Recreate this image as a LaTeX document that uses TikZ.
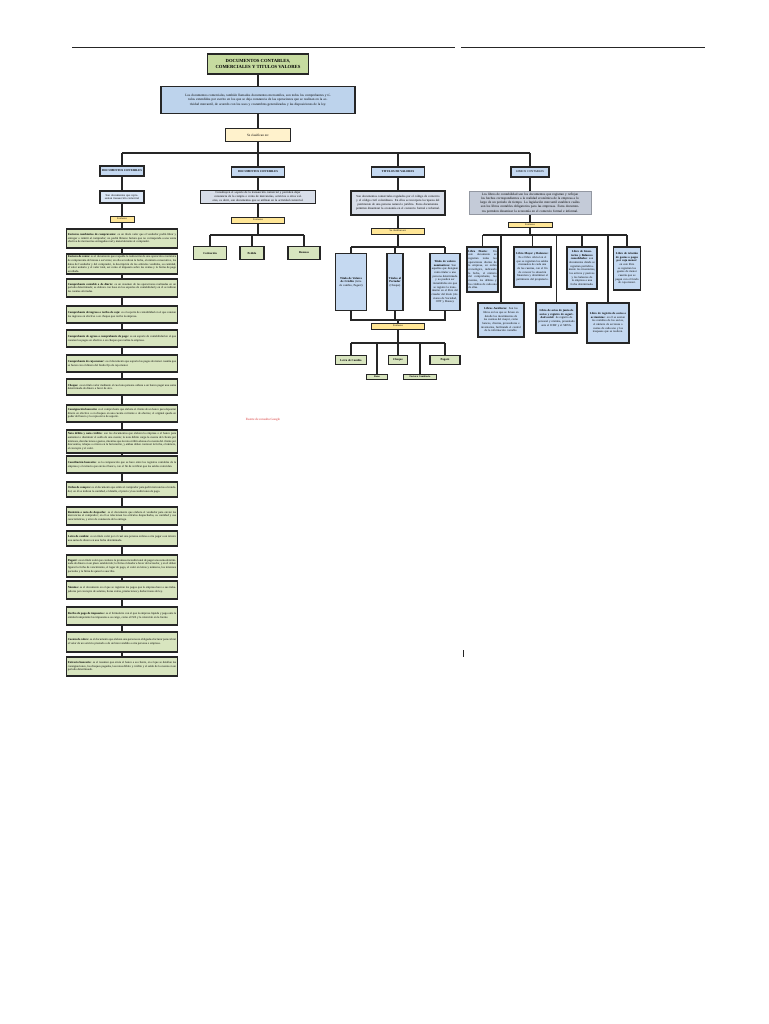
\documentclass[tikz,border=0pt]{standalone}
\usepackage{fontspec}
\setmainfont{Liberation Serif}
\usetikzlibrary{positioning}

\definecolor{titlegreen}{RGB}{198,219,160}
\definecolor{boxgreen}{RGB}{216,229,191}
\definecolor{boxblue}{RGB}{197,217,241}
\definecolor{introblue}{RGB}{189,211,236}
\definecolor{paleyellow}{RGB}{255,242,204}
\definecolor{tagyellow}{RGB}{255,230,150}
\definecolor{boxgrey}{RGB}{216,222,233}
\definecolor{libgrey}{RGB}{196,203,216}
\definecolor{srcred}{RGB}{214,42,42}
\newcommand{\fsz}[2]{\fontsize{#1}{#2}\selectfont}

\begin{document}
\begin{tikzpicture}[x=0.75pt, y=-0.75pt,
  every node/.style={inner sep=1pt, align=center},
  bw/.style={text width=#1*0.75pt-2pt},
  mw/.style={minimum width=#1*0.75pt},
  mh/.style={minimum height=#1*0.75pt},
  outline/.style={draw=black!85, line width=1.1pt},
  link/.style={draw=black!85, line width=0.9pt},
  ttlbox/.style={outline, fill=titlegreen, font=\fsz{3.5}{5}\bfseries},
  introbox/.style={outline, fill=introblue, font=\fsz{2.5}{3.3}},
  clastag/.style={outline, fill=paleyellow, font=\fsz{2.5}{3}},
  headbox/.style={outline, fill=boxblue, font=\fsz{2.2}{2.6}\bfseries},
  subbox/.style={outline, fill=boxgrey, font=\fsz{2.3}{2.9}},
  fmttag/.style={draw=black!85, line width=0.7pt, fill=tagyellow, inner sep=0.3pt, font=\fsz{1.9}{2.2}},
  docbox/.style={outline, fill=boxgreen, font=\fsz{2.2}{2.75}, align=justify, bw=111},
  formbox/.style={outline, fill=boxgreen, font=\fsz{2.2}{2.6}\bfseries},
  typebox/.style={outline, fill=boxblue, font=\fsz{2.2}{2.75}},
  libbox/.style={outline, fill=boxblue, font=\fsz{2.2}{2.75}}]

  \useasboundingbox (0,0) rectangle (768,1024);
  \fill[white] (0,0) rectangle (768,1024);

  % top rules
  \draw[black!85, line width=0.7pt] (72,47) -- (455,47);
  \draw[black!85, line width=0.7pt] (461,47) -- (705,47);

  % title and trunk
  \node[ttlbox, mw=101, mh=20] (ttl) at (258,64) {DOCUMENTOS CONTABLES,\\COMERCIALES Y TITULOS VALORES};
  \node[introbox, bw=194, mh=27] (intro) at (258,100) {Los documentos comerciales, también llamados documentos mercantiles, son todos los comprobantes y títulos extendidos por escrito en los que se deja constancia de las operaciones que se realizan en la actividad mercantil, de acuerdo con los usos y costumbres generalizadas y las disposiciones de la ley.};
  \node[clastag, mw=65, mh=13] (clas) at (258,135) {Se clasifican en:};
  \draw[link] (ttl) -- (intro) -- (clas);

  \coordinate (busM) at (0,153);
  \node[headbox, mw=44, mh=10] (hdA) at (122,171) {DOCUMENTOS CONTABLES};
  \node[headbox, mw=53, mh=10] (hdB) at (258,172) {DOCUMENTOS CONTABLES};
  \node[headbox, mw=53, mh=10] (hdC) at (398,172) {TITULOS DE VALORES};
  \node[headbox, font=\fsz{2.2}{2.6}, mw=38, mh=10] (hdD) at (530,172) {LIBROS CONTABLES};
  \draw[link] (clas) -- (clas |- busM);
  \draw[link] (hdA |- busM) -- (hdD |- busM);
  \draw[link] (hdA |- busM) -- (hdA);
  \draw[link] (hdB |- busM) -- (hdB);
  \draw[link] (hdC |- busM) -- (hdC);
  \draw[link] (hdD |- busM) -- (hdD);

  % documentos contables (left column)
  \node[subbox, fill=boxblue!60!white, bw=44, mh=12, font=\fsz{2.2}{2.8}] (subA) at (122,197) {Son documentos que representan transacción comercial};
  \node[fmttag, mw=24, mh=6] (fmtA) at (122,219) {Formatos};
  \node[docbox, mh=19] (a1) at (122,238.5) {\textbf{Facturas cambiarias de compraventa:} es un título valor que el vendedor podrá librar y entregar o remitir al comprador; no podrá librarse factura que no corresponda a una venta efectiva de mercancías entregadas real y materialmente al comprador.};
  \node[docbox, mh=20] (a2) at (122,264) {\textbf{Factura de venta:} es el documento que respalda la realización de una operación económica de compraventa de bienes o servicios; en ella se indican la fecha, el número consecutivo, los datos del vendedor y del comprador, la descripción de los artículos vendidos, su cantidad, el valor unitario y el valor total, así como el impuesto sobre las ventas y la forma de pago acordada.};
  \node[docbox, mh=18] (a3) at (122,288) {\textbf{Comprobante contable o de diario:} es un resumen de las operaciones realizadas en un periodo determinado; se elabora con base en los soportes de contabilidad y en él se indican las cuentas afectadas.};
  \node[docbox, mh=17] (a4) at (122,314.5) {\textbf{Comprobante de ingreso o recibo de caja:} es el soporte de contabilidad en el que constan los ingresos en efectivo o en cheque que recibe la empresa.};
  \node[docbox, mh=17] (a5) at (122,338.5) {\textbf{Comprobante de egreso o comprobante de pago:} es un soporte de contabilidad en el que constan los pagos en efectivo o en cheque que realiza la empresa.};
  \node[docbox, mh=17] (a6) at (122,363.5) {\textbf{Comprobante de caja menor:} es el documento que soporta los pagos de menor cuantía que se hacen con el dinero del fondo fijo de caja menor.};
  \node[docbox, mh=16] (a7) at (122,387) {\textbf{Cheque:} es un título valor mediante el cual una persona ordena a un banco pagar una suma determinada de dinero a favor de otra.};
  \node[docbox, mh=17] (a8) at (122,413.5) {\textbf{Consignación bancaria:} es el comprobante que elabora el cliente de un banco para depositar dinero en efectivo o en cheques en una cuenta corriente o de ahorros; el original queda en poder del banco y la copia sirve de soporte.};
  \node[docbox, mh=23] (a9) at (122,441.5) {\textbf{Nota débito y nota crédito:} son los documentos que elabora la empresa o el banco para aumentar o disminuir el saldo de una cuenta; la nota débito carga la cuenta del cliente por intereses, devoluciones o gastos, mientras que la nota crédito abona a la cuenta del cliente por descuentos, rebajas o errores en la facturación, y ambas deben contener la fecha, el número, el concepto y el valor.};
  \node[docbox, mh=17] (a10) at (122,464.5) {\textbf{Conciliación bancaria:} es la comparación que se hace entre los registros contables de la empresa y el extracto que envía el banco, con el fin de verificar que los saldos coincidan.};
  \node[docbox, mh=15] (a11) at (122,489.5) {\textbf{Orden de compra:} es el documento que emite el comprador para pedir mercancías al vendedor; en él se indican la cantidad, el detalle, el precio y las condiciones de pago.};
  \node[docbox, mh=18] (a12) at (122,516) {\textbf{Remisión o nota de despacho:} es el documento que elabora el vendedor para enviar las mercancías al comprador; en él se relacionan los artículos despachados, su cantidad y sus características, y sirve de constancia de la entrega.};
  \node[docbox, mh=15] (a13) at (122,538.5) {\textbf{Letra de cambio:} es un título valor por el cual una persona ordena a otra pagar a un tercero una suma de dinero en una fecha determinada.};
  \node[docbox, mh=22] (a14) at (122,566) {\textbf{Pagaré:} es un título valor que contiene la promesa incondicional de pagar una suma determinada de dinero en un plazo establecido; lo firma el deudor a favor del acreedor, y en él deben figurar la fecha de vencimiento, el lugar de pago, el valor en letras y números, los intereses pactados y la firma de quien lo suscribe.};
  \node[docbox, mh=18] (a15) at (122,590) {\textbf{Nómina:} es el documento en el que se registran los pagos que la empresa hace a sus trabajadores por concepto de salarios, horas extras, prestaciones y deducciones de ley.};
  \node[docbox, mh=18] (a16) at (122,616) {\textbf{Recibo de pago de impuestos:} es el formulario con el que la empresa liquida y paga ante la entidad competente los impuestos a su cargo, como el IVA y la retención en la fuente.};
  \node[docbox, mh=20] (a17) at (122,642) {\textbf{Cuenta de cobro:} es el documento que elabora una persona no obligada a facturar para cobrar el valor de un servicio prestado o de un bien vendido a otra persona o empresa.};
  \node[docbox, mh=19] (a18) at (122,666.5) {\textbf{Extracto bancario:} es el resumen que envía el banco a su cliente, en el que se detallan las consignaciones, los cheques pagados, las notas débito y crédito y el saldo de la cuenta en un periodo determinado.};
  \draw[link] (hdA) -- (subA) -- (fmtA) -- (a1) -- (a2) -- (a3) -- (a4) -- (a5) -- (a6) -- (a7) -- (a8) -- (a9)
    -- (a10) -- (a11) -- (a12) -- (a13) -- (a14) -- (a15) -- (a16) -- (a17) -- (a18);

  % documentos (second column)
  \node[subbox, bw=115, mh=13] (subB) at (258,197) {Constituyen el soporte de la transacción comercial y permiten dejar constancia de la compra o venta de mercancías, servicios u otros valores, es decir, son documentos que se utilizan en la actividad comercial.};
  \node[fmttag, mw=53, mh=6] (fmtB) at (258,220) {Formatos};
  \coordinate (busB) at (0,235);
  \node[formbox, mw=33, mh=13] (cotiz) at (210,253) {Cotización};
  \node[formbox, mw=24, mh=13] (pedido) at (252,253) {Pedido};
  \node[formbox, mw=32, mh=13] (remesa) at (304,253) {Remesa};
  \draw[link] (hdB) -- (subB) -- (fmtB) -- (fmtB |- busB);
  \draw[link] (cotiz |- busB) -- (remesa |- busB);
  \draw[link] (cotiz |- busB) -- (cotiz);
  \draw[link] (pedido |- busB) -- (pedido);
  \draw[link] (remesa |- busB) -- (remesa);

  % titulos de valores
  \node[subbox, bw=94, mh=24] (subC) at (398,203) {Son documentos comerciales regulados por el código de comercio y el código civil colombiano. En ellos se incorpora la riqueza del patrimonio de una persona natural o jurídica. Estos documentos permiten dinamizar la economía en el comercio formal e informal.};
  \node[fmttag, mw=53, mh=6] (clasC) at (398,231) {Se clasifican en:};
  \coordinate (busC) at (0,247);
  \node[typebox, bw=31, mh=57] (cred) at (351,282) {\textbf{Título de Valores de Crédito} (letra de cambio, Pagaré)};
  \node[typebox, bw=16, mh=57] (port) at (395,282) {\textbf{Títulos al Portador} (Cheque)};
  \node[typebox, bw=30, mh=57] (nomi) at (445,282) {\textbf{Título de valores nominativos:} Son aquellos que designan como titular a una persona determinada y no pueden ser transmitidos sin que se registre la transmisión en el libro del creador del título (Acciones de Sociedad, CDT y Bonos).};
  \draw[link] (hdC) -- (subC) -- (clasC) -- (clasC |- busC);
  \draw[link] (cred |- busC) -- (nomi |- busC);
  \draw[link] (cred |- busC) -- (cred);
  \draw[link] (port |- busC) -- (port);
  \draw[link] (nomi |- busC) -- (nomi);

  \coordinate (joinC) at (0,320);
  \node[fmttag, mw=53, mh=6] (fmtC) at (398,326) {Formatos};
  \coordinate (busC2) at (0,343);
  \node[formbox, mw=31, mh=9] (letra) at (351,360) {Letra de Cambio};
  \node[formbox, mw=19, mh=9] (cheque) at (398,360) {Cheque};
  \node[formbox, mw=30, mh=9] (pagare) at (445,360) {Pagaré};
  \node[formbox, mw=21, mh=5, inner sep=0.3pt, font=\fsz{1.9}{2.2}\bfseries] (bono) at (377,377) {Bono};
  \node[formbox, mw=33, mh=5, inner sep=0.3pt, font=\fsz{1.9}{2.2}\bfseries] (factura) at (420,377) {Factura Cambiaria};
  \draw[link] (cred) -- (cred |- joinC) -- (nomi |- joinC) -- (nomi);
  \draw[link] (port) -- (port |- joinC);
  \draw[link] (fmtC |- joinC) -- (fmtC);
  \draw[link] (fmtC) -- (fmtC |- busC2);
  \draw[link] (letra |- busC2) -- (pagare |- busC2);
  \draw[link] (letra |- busC2) -- (letra);
  \draw[link] (cheque |- busC2) -- (cheque);
  \draw[link] (pagare |- busC2) -- (pagare);
  \draw[link] (bono |- busC2) -- (bono);
  \draw[link] (factura |- busC2) -- (factura);

  % libros contables
  \node[subbox, fill=libgrey, draw=libgrey!75!black, line width=0.4pt, bw=122, mh=23, font=\fsz{2.5}{3.1}] (subD) at (530,203) {Los libros de contabilidad son los documentos que registran y reflejan los hechos correspondientes a la realidad económica de la empresa a lo largo de un periodo de tiempo. La legislación mercantil establece cuáles son los libros contables obligatorios para las empresas. Estos documentos permiten dinamizar la economía en el comercio formal e informal.};
  \node[fmttag, mw=44, mh=5] (fmtD) at (530,225) {Formatos};
  \coordinate (busD) at (0,235);
  \node[libbox, bw=31, mh=45, align=justify] (L1) at (482.5,269.5) {\textbf{Libro Diario:} En este documento se registran todas las operaciones diarias de la empresa, en orden cronológico, indicando la fecha, el número del comprobante, las cuentas, los débitos y los créditos de cada una de ellas.};
  \node[libbox, bw=37, mh=40] (L2) at (532.5,267) {\textbf{Libro Mayor y Balances:} Es el libro oficial en el que se registran los saldos mensuales de cada una de las cuentas, con el fin de conocer la situación financiera y determinar el patrimonio del propietario.};
  \node[libbox, bw=30, mh=42] (L3) at (582,268) {\textbf{Libro de Inventarios y Balances consolidados:} son documentos donde se registran periódicamente los inventarios, los activos y pasivos y los balances de la empresa a una fecha determinada.};
  \node[libbox, bw=27, mh=43] (L4) at (627,268.5) {\textbf{Libro de relación de gastos o pagos por caja menor:} en este libro se registran los gastos de menor cuantía que se pagan con el fondo de caja menor.};
  \node[libbox, bw=46, mh=34] (L5) at (501,320) {\textbf{Libros Auxiliares:} Son los libros en los que se llevan en detalle los movimientos de las cuentas del mayor, como bancos, clientes, proveedores e inventarios, facilitando el control de la información contable.};
  \node[libbox, bw=41, mh=30] (L6) at (556.5,318) {\textbf{Libro de actas de junta de socios y registro de seguridad social:} de registro de personal y nómina, presentado ante el ICBF y el SENA.};
  \node[libbox, bw=42, mh=40] (L7) at (608,323) {\textbf{Libro de registro de socios o accionistas:} en él se anotan los nombres de los socios, el número de acciones o cuotas de cada uno y los traspasos que se realicen.};
  \draw[link] (hdD) -- (subD) -- (fmtD) -- (fmtD |- busD);
  \draw[link] (L1 |- busD) -- (L4 |- busD);
  \draw[link] (L1 |- busD) -- (L1);
  \draw[link] (L2 |- busD) -- (L2);
  \draw[link] (L3 |- busD) -- (L3);
  \draw[link] (L4 |- busD) -- (L4);
  \draw[link] (L5 |- busD) -- (L5);
  \draw[link] (L6 |- busD) -- (L6);
  \draw[link] (L7 |- busD) -- (L7);

  % source note and stray mark
  \node[font=\fsz{2.4}{3}, text=srcred] (src) at (263,420) {Fuente de consulta Google};
  \fill[black!85] (462.6,650) rectangle (464,657);
\end{tikzpicture}
\end{document}
